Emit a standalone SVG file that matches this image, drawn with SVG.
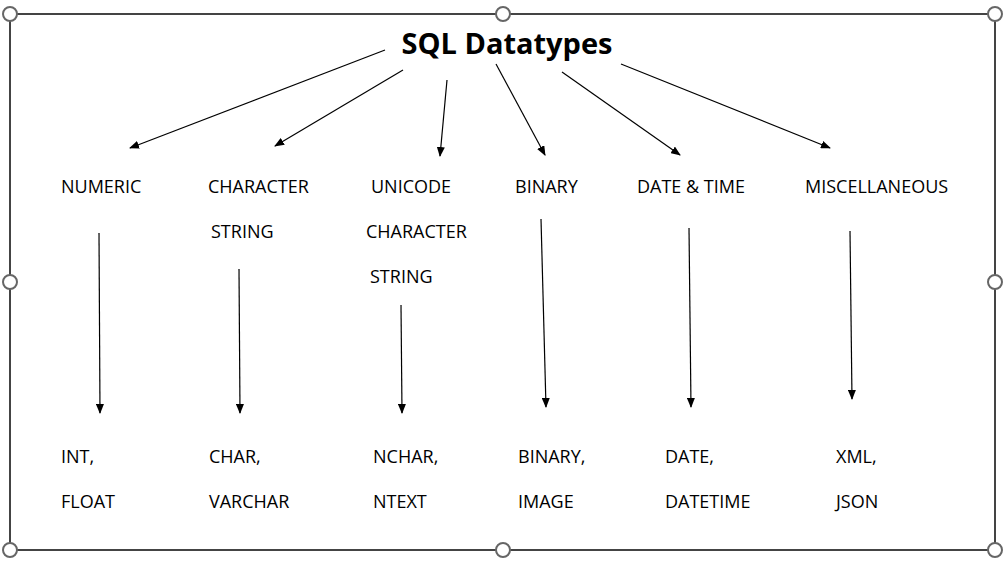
<svg xmlns="http://www.w3.org/2000/svg" width="1006" height="562" viewBox="0 0 1006 562">
<style>
.t{font-family:"Open Sans","Liberation Sans",sans-serif;font-size:18px;fill:#000}
.a{stroke:#000;stroke-width:1.2;fill:none;marker-end:url(#ah)}
.h{fill:#fff;stroke:#666;stroke-width:2}
</style>
<defs><marker id="ah" markerWidth="10" markerHeight="8" refX="9" refY="4" orient="auto" markerUnits="userSpaceOnUse"><path d="M0,0L10,4L0,8z" fill="#000"/></marker></defs>
<rect x="0" y="0" width="1006" height="562" fill="#fff"/>
<g id="frame">
<rect x="10" y="14" width="985" height="536" fill="none" stroke="#444" stroke-width="2"/>
<circle class="h" cx="10" cy="14" r="7"/><circle class="h" cx="503" cy="14" r="7"/><circle class="h" cx="995" cy="14" r="7"/>
<circle class="h" cx="10" cy="282" r="7"/><circle class="h" cx="995" cy="282" r="7"/>
<circle class="h" cx="10" cy="550" r="7"/><circle class="h" cx="503" cy="550" r="7"/><circle class="h" cx="995" cy="550" r="7"/>
</g>
<g id="title"><text x="507" y="54" text-anchor="middle" style="font-family:'Open Sans','Liberation Sans',sans-serif;font-size:29px;font-weight:bold">SQL Datatypes</text></g>
<g id="connectors">
<line class="a" x1="385" y1="50" x2="130" y2="148"/>
<line class="a" x1="403" y1="70" x2="275" y2="146"/>
<line class="a" x1="447" y1="80" x2="440" y2="156"/>
<line class="a" x1="496" y1="64" x2="545" y2="155"/>
<line class="a" x1="562" y1="72" x2="680" y2="155"/>
<line class="a" x1="621" y1="64" x2="830" y2="148"/>
<line class="a" x1="99" y1="233" x2="100" y2="413"/>
<line class="a" x1="239" y1="269" x2="240" y2="413"/>
<line class="a" x1="401" y1="305" x2="402" y2="413"/>
<line class="a" x1="541" y1="219" x2="546" y2="407"/>
<line class="a" x1="689" y1="228" x2="691" y2="407"/>
<line class="a" x1="850" y1="231" x2="852" y2="399"/>
</g>
<g id="numeric"><text class="t" x="61" y="193">NUMERIC</text></g>
<g id="character"><text class="t" x="208" y="193">CHARACTER</text><text class="t" x="211" y="238">STRING</text></g>
<g id="unicode"><text class="t" x="371" y="193">UNICODE</text><text class="t" x="366" y="238">CHARACTER</text><text class="t" x="370" y="283">STRING</text></g>
<g id="binary"><text class="t" x="515" y="193">BINARY</text></g>
<g id="datetime"><text class="t" x="637" y="193">DATE &amp; TIME</text></g>
<g id="misc"><text class="t" x="805" y="193">MISCELLANEOUS</text></g>
<g id="numeric-ex"><text class="t" x="61" y="463">INT,</text><text class="t" x="61" y="508">FLOAT</text></g>
<g id="char-ex"><text class="t" x="209" y="463">CHAR,</text><text class="t" x="209" y="508">VARCHAR</text></g>
<g id="unicode-ex"><text class="t" x="373" y="463">NCHAR,</text><text class="t" x="373" y="508">NTEXT</text></g>
<g id="binary-ex"><text class="t" x="518" y="463">BINARY,</text><text class="t" x="518" y="508">IMAGE</text></g>
<g id="date-ex"><text class="t" x="665" y="463">DATE,</text><text class="t" x="665" y="508">DATETIME</text></g>
<g id="misc-ex"><text class="t" x="836" y="463">XML,</text><text class="t" x="836" y="508">JSON</text></g>
</svg>
